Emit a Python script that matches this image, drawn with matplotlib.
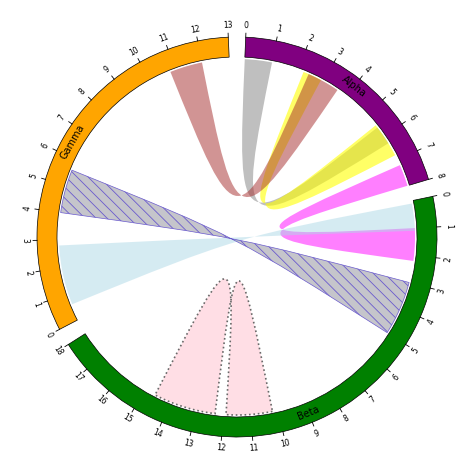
import numpy as np
import matplotlib
matplotlib.use("Agg")
import matplotlib.pyplot as plt
from matplotlib.path import Path
from matplotlib.patches import PathPatch, Wedge

plt.rcParams["hatch.linewidth"] = 0.6

sectors = ["Alpha", "Beta", "Gamma"]
sizes = [8, 18, 13]
colors = ["purple", "green", "orange"]

link_a = [("Alpha", 0, 1), ("Alpha", 2.2, 2.9), ("Gamma", 10.8, 12.0), ("Alpha", 7.2, 8.0),
          ("Beta", 0.1, 1.1), ("Gamma", 4.0, 5.6), ("Beta", 10.2, 11.9)]
link_b = [("Alpha", 5.6, 6.3), ("Alpha", 5.5, 6.8), ("Alpha", 2.4, 3.6), ("Beta", 1.0, 2.2),
          ("Gamma", 0.6, 2.8), ("Beta", 3.0, 5.0), ("Beta", 12.3, 14.6)]
link_styles = [dict(fc="grey", alpha=0.5), dict(fc="yellow", alpha=0.6),
               dict(fc="brown", alpha=0.5), dict(fc="magenta", alpha=0.5),
               dict(fc="lightblue", alpha=0.5),
               dict(fc=(0.55, 0.55, 0.6, 0.5), ec="slateblue", hatch="\\\\\\", lw=0.5),
               dict(fc=(1.0, 0.75, 0.8, 0.5), ec="dimgrey", ls=":", lw=1.2)]

gap = 5.0
unit = (360 - gap * len(sizes)) / sum(sizes)
starts = {}
a = gap / 2
for s, n in zip(sectors, sizes):
    starts[s] = a
    a += n * unit + gap

def ang(s, v):
    return starts[s] + v * unit

def xy(r, deg):
    t = np.radians(deg)
    return r * np.sin(t), r * np.cos(t)

fig = plt.figure(figsize=(4.74, 4.74), dpi=100)
ax = fig.add_axes([0, 0, 1, 1])
ax.set_xlim(-1.185, 1.185)
ax.set_ylim(-1.185, 1.185)
ax.set_aspect("equal")
ax.axis("off")

R0, R1 = 0.9, 1.0
for s, n, c in zip(sectors, sizes, colors):
    a0, a1 = ang(s, 0), ang(s, n)
    ax.add_patch(Wedge((0, 0), R1, 90 - a1, 90 - a0, width=R1 - R0, fc=c, ec="black", lw=0.5))
    for k in range(n + 1):
        d = ang(s, k)
        x0, y0 = xy(1.0, d); x1, y1 = xy(1.02, d)
        ax.plot([x0, x1], [y0, y1], color="black", lw=0.6)
        tx, ty = xy(1.06, d)
        rot = -d if (d < 90 or d > 270) else 180 - d
        ax.text(tx, ty, str(k), fontsize=5.5, ha="center", va="center", rotation=rot)
    mid = (a0 + a1) / 2
    tx, ty = xy(0.95, mid)
    rot = -mid if (mid < 90 or mid > 270) else 180 - mid
    ax.text(tx, ty, s, fontsize=7, ha="center", va="center", rotation=rot)

RL = 0.89
def arc_pts(d0, d1, n=30):
    ds = np.linspace(d0, d1, n)
    return [xy(RL, d) for d in ds]

for la, lb, st in zip(link_a, link_b, link_styles):
    a0, a1 = ang(la[0], la[1]), ang(la[0], la[2])
    b0, b1 = ang(lb[0], lb[1]), ang(lb[0], lb[2])
    verts, codes = [], []
    pa = arc_pts(a0, a1)
    verts += pa; codes += [Path.MOVETO] + [Path.LINETO] * (len(pa) - 1)
    verts += [(0, 0), (0, 0), xy(RL, b1)]; codes += [Path.CURVE4] * 3
    pb = arc_pts(b1, b0)
    verts += pb[1:]; codes += [Path.LINETO] * (len(pb) - 1)
    verts += [(0, 0), (0, 0), xy(RL, a0)]; codes += [Path.CURVE4] * 3
    st = dict(st)
    if "ec" not in st:
        st["ec"] = "none"
    ax.add_patch(PathPatch(Path(verts, codes), **st))

fig.savefig("out.png", dpi=100)
